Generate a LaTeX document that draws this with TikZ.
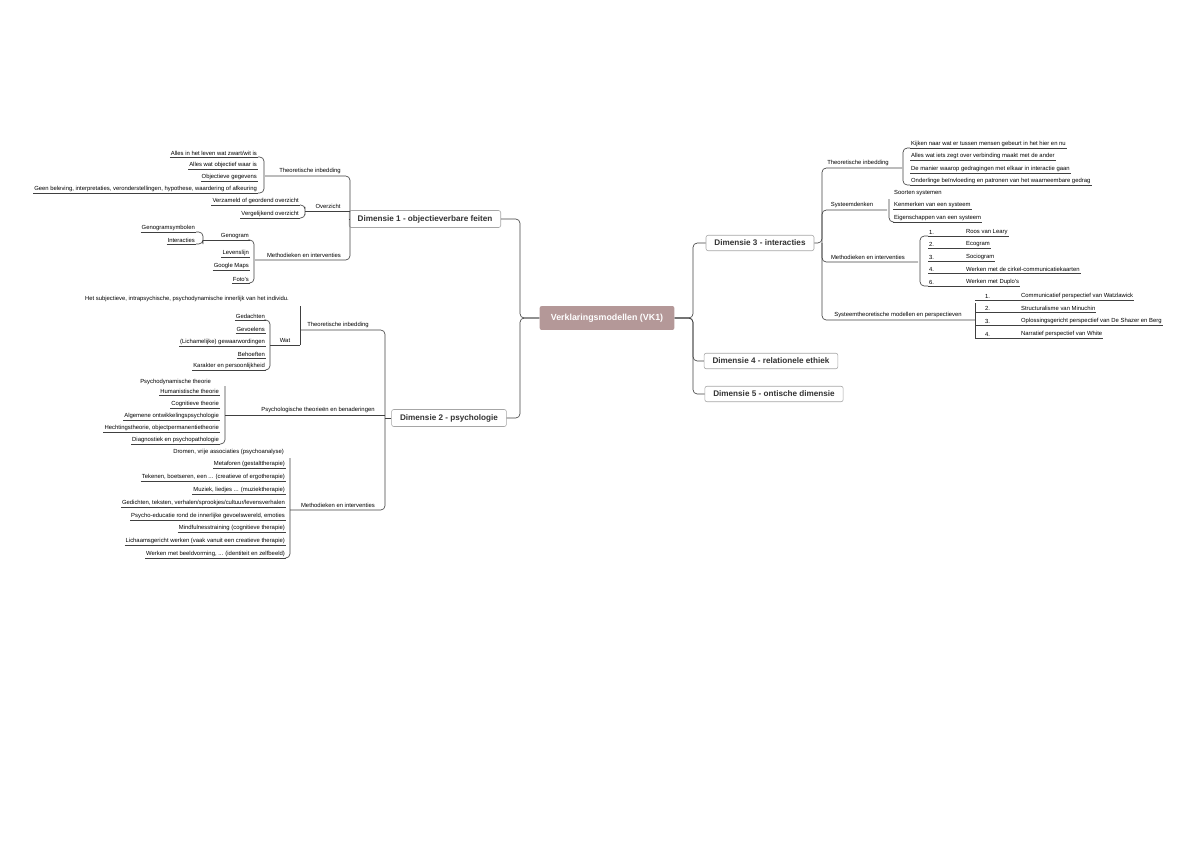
\documentclass[tikz,border=0pt]{standalone}
\usepackage{fontspec}
\setmainfont{Liberation Sans}
\definecolor{rootc}{RGB}{180,152,152}
\tikzset{
 ln/.style={draw=black!75,line width=0.45pt},
 lf/.style={inner sep=0.6pt,font=\fontsize{4.2}{5}\selectfont},
 lab/.style={inner sep=0.6pt,font=\fontsize{4.2}{5}\selectfont},
 dim/.style={draw=black!35,fill=white,rounded corners=1.5pt,font=\fontsize{5.8}{7}\bfseries\selectfont,text=black!80,minimum height=11pt,inner xsep=6pt},
 root/.style={fill=rootc,rounded corners=1.5pt,font=\fontsize{6.3}{7}\bfseries\selectfont,text=white,minimum height=17pt,inner xsep=8pt}
}
\newcommand\LL[4]{\node[lf,anchor=south east] (#1) at (#2,#3) {#4}; \draw[ln] (#1.south west)--(#1.south east);}
\newcommand\RL[4]{\node[lf,anchor=south west] (#1) at (#2,#3) {#4}; \draw[ln] (#1.south west)--(#1.south east);}
\begin{document}
\begin{tikzpicture}[x=0.025cm,y=-0.025cm]
\useasboundingbox (0,0) rectangle (1200,849);
% root and dimensions
\node[root] (R) at (607,318) {Verklaringsmodellen (VK1)};
\node[dim] (D1) at (425,219) {Dimensie 1 - objectieverbare feiten};
\node[dim] (D2) at (449,418) {Dimensie 2 - psychologie};
\node[dim] (D3) at (760,243) {Dimensie 3 - interacties};
\node[dim] (D4) at (771,361) {Dimensie 4 - relationele ethiek};
\node[dim] (D5) at (774,394) {Dimensie 5 - ontische dimensie};
\draw[ln,rounded corners=3] (R.west) -- (520,318) |- (D1.east);
\draw[ln,rounded corners=3] (R.west) -- (520,318) |- (D2.east);
\draw[ln,rounded corners=3] (R.east) -- (693,318) |- (D3.west);
\draw[ln,rounded corners=3] (R.east) -- (693,318) |- (D4.west);
\draw[ln,rounded corners=3] (R.east) -- (693,318) |- (D5.west);

% ===== Dimension 1
\node[lab,anchor=south] (T1) at (310,175) {Theoretische inbedding};
\node[lab,anchor=south] (O1) at (328,210) {Overzicht};
\node[lab,anchor=south] (M1) at (304,259) {Methodieken en interventies};
\draw[ln] (D1.west) -- (350,219);
\draw[ln,rounded corners=3] (265,176) -| (350,219) |- (255,260);
\draw[ln] (350,211) -- (305,211);
\LL{a1}{258}{157}{Alles in het leven wat zwart/wit is}
\LL{a2}{258}{169}{Alles wat objectief waar is}
\LL{a3}{258}{181}{Objectieve gegevens}
\LL{a4}{258}{193}{Geen beleving, interpretaties, veronderstellingen, hypothese, waardering of afkeuring}
\draw[ln,rounded corners=3] (a1.south east) -| (264,176) |- (a4.south east);
\LL{o1}{300}{205}{Verzameld of geordend overzicht}
\LL{o2}{300}{218}{Vergelijkend overzicht}
\draw[ln,rounded corners=3] (o1.south east) -| (305,211) |- (o2.south east);
\LL{g1}{250}{240}{Genogram}
\LL{l1}{250}{257}{Levenslijn}
\LL{l2}{250}{270}{Google Maps}
\LL{l3}{250}{283}{Foto's}
\draw[ln,rounded corners=3] (g1.south east) -| (254,260) |- (l3.south east);
\LL{gs}{196}{232}{Genogramsymbolen}
\LL{gi}{196}{244}{Interacties}
\draw[ln,rounded corners=3] (gs.south east) -| (203,240) |- (gi.south east);
\draw[ln] (203,240) -- (g1.south west);

% ===== Dimension 2
\node[lab,anchor=south] (T2) at (338,329) {Theoretische inbedding};
\node[lab,anchor=south] (P2) at (318,414) {Psychologische theorieën en benaderingen};
\node[lab,anchor=south] (M2) at (338,509) {Methodieken en interventies};
\draw[ln] (D2.west) -- (385,418);
\draw[ln,rounded corners=3] (300,330) -| (385,418) |- (290,510);
\draw[ln] (385,415) -- (225,415);
\node[lf,anchor=south east] (s0) at (290,303) {Het subjectieve, intrapsychische, psychodynamische innerlijk van het individu.};
\draw[ln] (300,306) -- (300,345);
\node[lab,anchor=south] (W) at (285,344) {Wat};
\draw[ln] (300,345) -- (270,345);
\LL{w1}{266}{320}{Gedachten}
\LL{w2}{266}{333}{Gevoelens}
\LL{w3}{266}{346}{(Lichamelijke) gewaarwordingen}
\LL{w4}{266}{358}{Behoeften}
\LL{w5}{266}{370}{Karakter en persoonlijkheid}
\draw[ln,rounded corners=3] (w1.south east) -| (270,345) |- (w5.south east);
\node[lf,anchor=south east] (p1) at (212,386) {Psychodynamische theorie};
\LL{p2}{220}{395}{Humanistische theorie}
\LL{p3}{220}{408}{Cognitieve theorie}
\LL{p4}{220}{420}{Algemene ontwikkelingspsychologie}
\LL{p5}{220}{432}{Hechtingstheorie, objectpermanentietheorie}
\LL{p6}{220}{444}{Diagnostiek en psychopathologie}
\draw[ln,rounded corners=3] (225,386) -- (225,415) |- (p6.south east);
\node[lf,anchor=south east] (m0) at (285,456) {Dromen, vrije associaties (psychoanalyse)};
\LL{m1}{286}{468}{Metaforen (gestalttherapie)}
\LL{m2}{286}{481}{Tekenen, boetseren, een ... (creatieve of ergotherapie)}
\LL{m3}{286}{494}{Muziek, liedjes ... (muziektherapie)}
\LL{m4}{286}{507}{Gedichten, teksten, verhalen/sprookjes/cultuur/levensverhalen}
\LL{m5}{286}{520}{Psycho-educatie rond de innerlijke gevoelswereld, emoties}
\LL{m6}{286}{532}{Mindfulnesstraining (cognitieve therapie)}
\LL{m7}{286}{545}{Lichaamsgericht werken (vaak vanuit een creatieve therapie)}
\LL{m8}{286}{558}{Werken met beeldvorming, ... (identiteit en zelfbeeld)}
\draw[ln,rounded corners=3] (290,458) -- (290,510) |- (m8.south east);

% ===== Dimension 3
\node[lab,anchor=south] (T3) at (858,167) {Theoretische inbedding};
\node[lab,anchor=south] (S3) at (852,209) {Systeemdenken};
\node[lab,anchor=south] (M3) at (868,261) {Methodieken en interventies};
\node[lab,anchor=south] (Y3) at (898,319) {Systeemtheoretische modellen en perspectieven};
\draw[ln,rounded corners=3] (D3.east) -- (822,243) |- (902,168);
\draw[ln,rounded corners=3] (822,243) |- (887,210);
\draw[ln,rounded corners=3] (822,243) |- (918,262);
\draw[ln,rounded corners=3] (822,243) |- (975,320);
\RL{t1}{910}{148}{Kijken naar wat er tussen mensen gebeurt in het hier en nu}
\RL{t2}{910}{160}{Alles wat iets zegt over verbinding maakt met de ander}
\RL{t3}{910}{173}{De manier waarop gedragingen met elkaar in interactie gaan}
\RL{t4}{910}{185}{Onderlinge beïnvloeding en patronen van het waarneembare gedrag}
\draw[ln,rounded corners=3] (t1.south west) -| (903,168) |- (t4.south west);
\node[lf,anchor=south west] (y1) at (893,197) {Soorten systemen};
\RL{y2}{893}{209}{Kenmerken van een systeem}
\RL{y3}{893}{222}{Eigenschappen van een systeem}
\draw[ln,rounded corners=3] (889,199) -- (889,210) |- (y3.south west);
\foreach \n/\t/\y in {1/Roos van Leary/236,2/Ecogram/248,3/Sociogram/261,4/Werken met de cirkel-communicatiekaarten/273,6/Werken met Duplo's/286}{
  \node[lf,anchor=south west] (mn\n) at (928,\y) {\n.};
  \node[lf,anchor=south west] (mt\n) at (965,\y) {\t};
  \draw[ln] (mn\n.south west) -- (mt\n.south east);
}
\draw[ln,rounded corners=3] (mn1.south west) -| (920,262) |- (mn6.south west);
\foreach \n/\t/\y in {1/Communicatief perspectief van Watzlawick/300,2/Structuralisme van Minuchin/312,3/Oplossingsgericht perspectief van De Shazer en Berg/325,4/Narratief perspectief van White/338}{
  \node[lf,anchor=south west] (sn\n) at (984,\y) {\n.};
  \node[lf,anchor=south west] (st\n) at (1020,\y) {\t};
  \draw[ln] (975,\y) -- (st\n.south east);
}
\draw[ln] (975,303) -- (975,338);
\end{tikzpicture}
\end{document}
